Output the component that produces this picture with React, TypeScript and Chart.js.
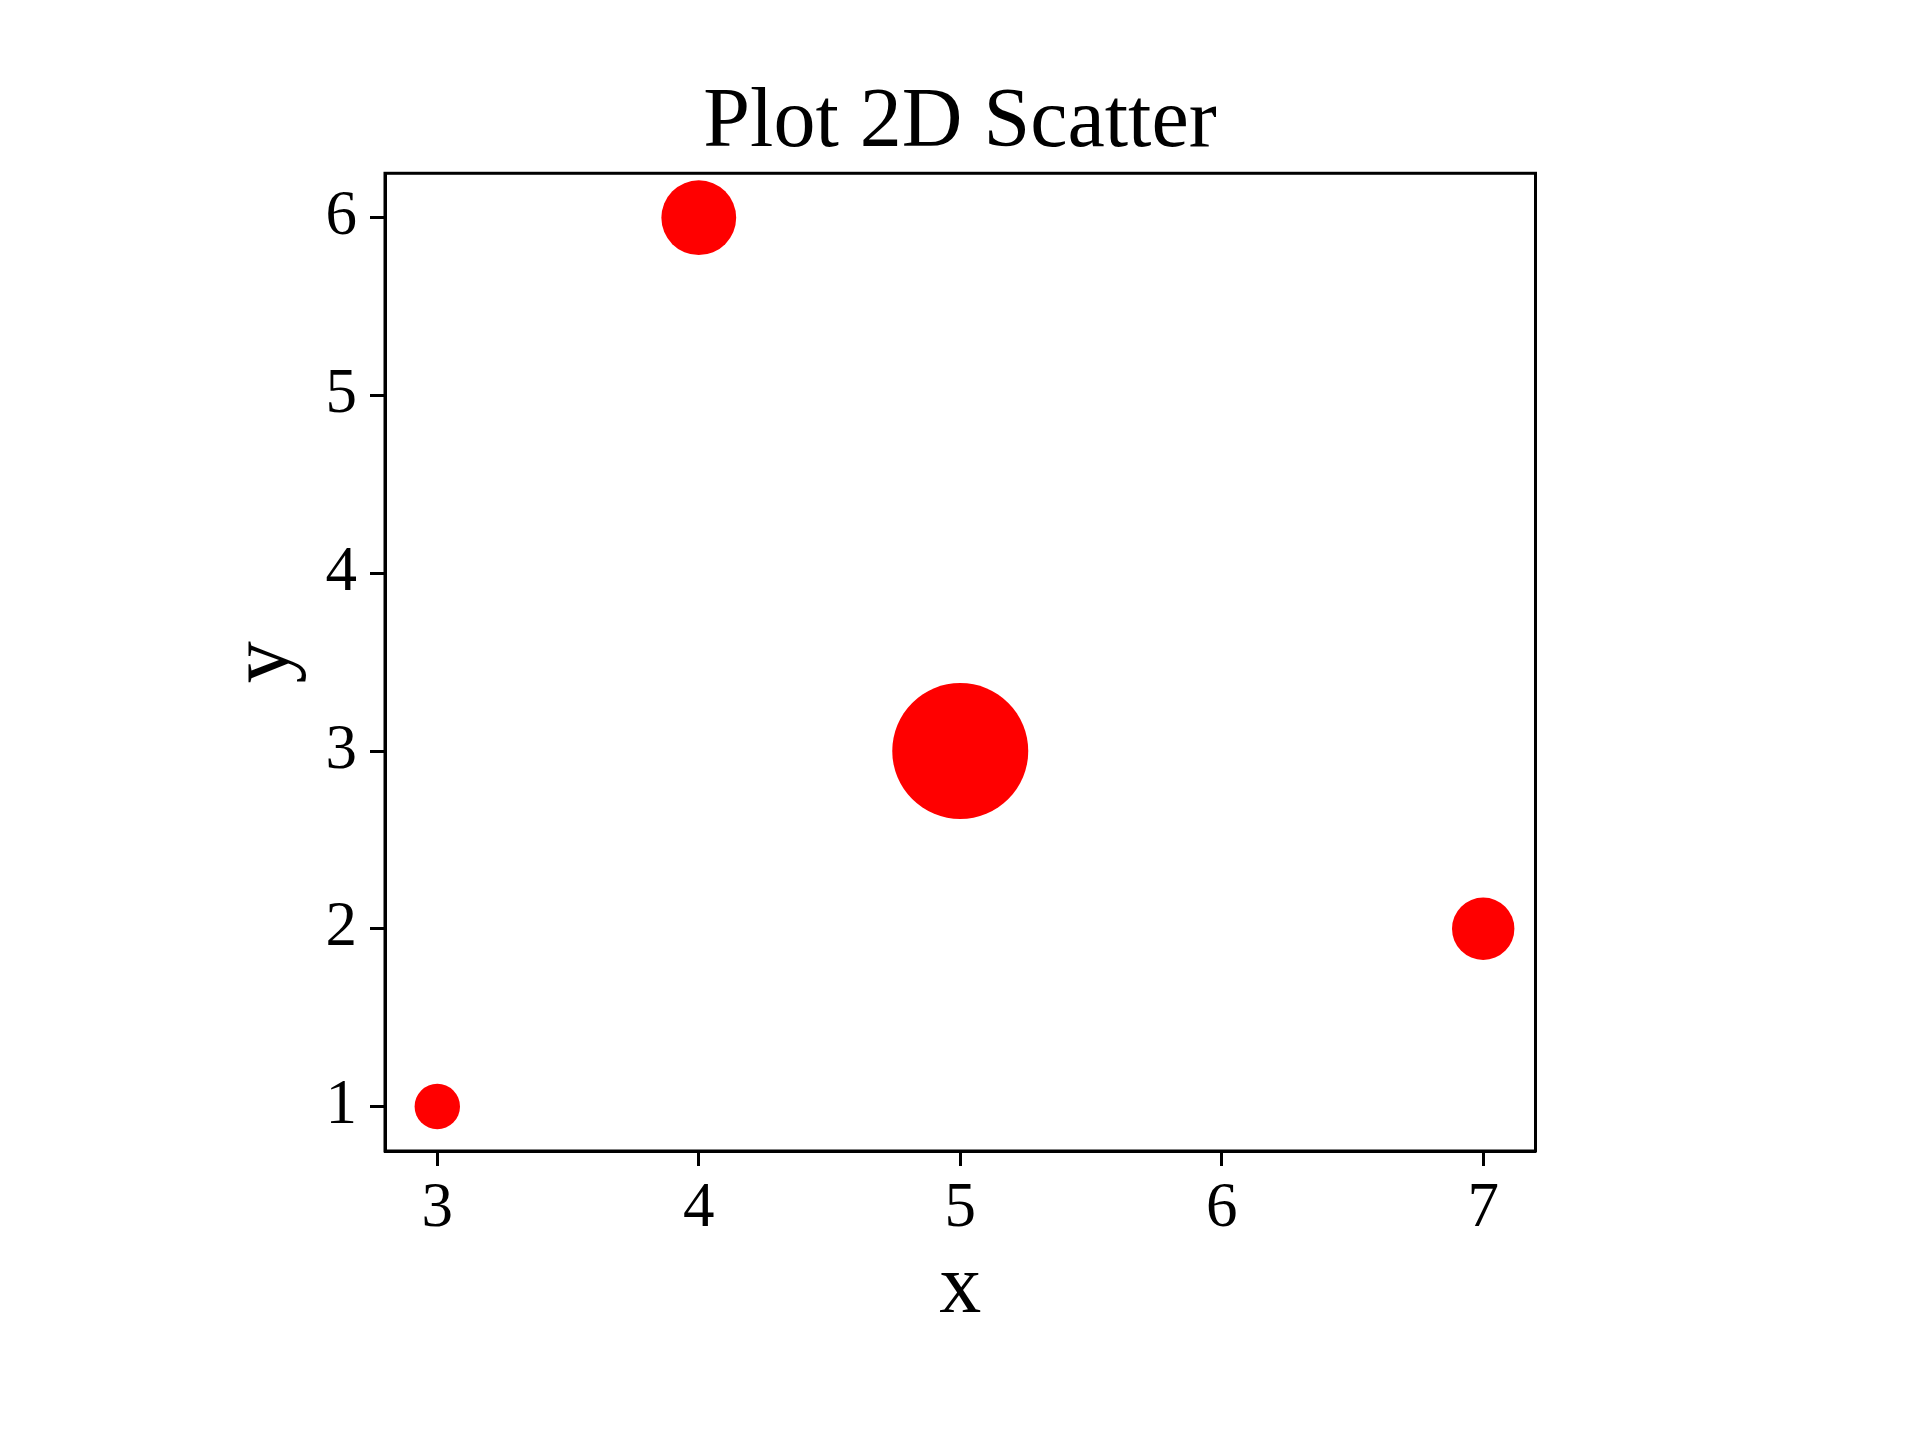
import React, { useEffect, useRef } from 'react';
import { Chart, registerables } from 'chart.js';

Chart.register(...registerables);

const xValues: number[] = [3, 4, 5, 7];
const yValues: number[] = [1, 6, 3, 2];
// bubble radius in px
const bubbleSizes: number[] = [22.7, 37.4, 68, 31.2];
const xTicks: number[] = [3, 4, 5, 6, 7];
const yTicks: number[] = [1, 2, 3, 4, 5, 6];

const FONT = "'Liberation Serif', 'Times New Roman', serif";

const frame = {
    id: 'frame',
    afterDatasetsDraw(chart: any) {
        const { ctx, chartArea } = chart;
        ctx.save();
        ctx.strokeStyle = '#000';
        ctx.lineWidth = 3;
        ctx.strokeRect(chartArea.left, chartArea.top, chartArea.right - chartArea.left, chartArea.bottom - chartArea.top);
        ctx.restore();
    },
};

const App: React.FC = () => {
    const canvasRef = useRef<HTMLCanvasElement | null>(null);

    useEffect(() => {
        if (!canvasRef.current) return;
        const ctx = canvasRef.current.getContext('2d');
        if (!ctx) return;

        const chart = new Chart(ctx, {
            type: 'bubble',
            data: {
                datasets: [{
                    data: xValues.map((x, i) => ({ x, y: yValues[i], r: bubbleSizes[i] })),
                    backgroundColor: '#ff0000',
                    borderWidth: 0,
                    hoverRadius: 0,
                }],
            },
            options: {
                responsive: false,
                devicePixelRatio: 1,
                animation: false,
                events: [],
                clip: false,
                layout: { padding: 0 },
                plugins: {
                    legend: { display: false },
                    tooltip: { enabled: false },
                    title: {
                        display: true,
                        text: 'Plot 2D Scatter',
                        color: '#000',
                        font: { family: FONT, size: 84, weight: 'normal', lineHeight: 1.17 },
                        padding: { top: 75, bottom: 0 },
                    },
                },
                scales: {
                    x: {
                        type: 'linear',
                        min: 2.8,
                        max: 7.2,
                        afterBuildTicks: (s: any) => { s.ticks = xTicks.map(v => ({ value: v })); },
                        afterFit: (s: any) => { s.height = 289; },
                        ticks: {
                            color: '#000',
                            padding: 12,
                            font: { family: FONT, size: 63, lineHeight: 1 },
                            maxRotation: 0,
                        },
                        grid: { drawOnChartArea: false, drawTicks: true, tickLength: 15, tickWidth: 3, tickColor: '#000' },
                        border: { display: true, color: '#000', width: 3 },
                        title: {
                            display: true,
                            text: 'x',
                            color: '#000',
                            font: { family: FONT, size: 84, lineHeight: 1.2 },
                            padding: { top: 0, bottom: 100 },
                        },
                    },
                    y: {
                        type: 'linear',
                        min: 0.75,
                        max: 6.25,
                        afterBuildTicks: (s: any) => { s.ticks = yTicks.map(v => ({ value: v })); },
                        afterFit: (s: any) => { s.width = 385; },
                        ticks: {
                            color: '#000',
                            padding: 13,
                            font: { family: FONT, size: 63, lineHeight: 1 },
                        },
                        grid: { drawOnChartArea: false, drawTicks: true, tickLength: 15, tickWidth: 3, tickColor: '#000' },
                        border: { display: true, color: '#000', width: 3 },
                        title: {
                            display: true,
                            text: 'y',
                            color: '#000',
                            font: { family: FONT, size: 84, lineHeight: 1.2 },
                            padding: { top: 216, bottom: 0 },
                        },
                    },
                    // empty right-hand margin so the title centres over the plot
                    yRight: {
                        type: 'linear',
                        position: 'right',
                        display: true,
                        afterFit: (s: any) => { s.width = 384.5; },
                        ticks: { display: false },
                        grid: { display: false },
                        border: { display: false },
                    },
                },
            },
            plugins: [frame],
        });

        return () => {
            chart.destroy();
        };
    }, []);

    return (
        <div style={{ position: 'absolute', left: 0, top: 0, width: 1920, height: 1440, background: '#fff' }}>
            <canvas ref={canvasRef} width={1920} height={1440} />
        </div>
    );
};

export default App;
